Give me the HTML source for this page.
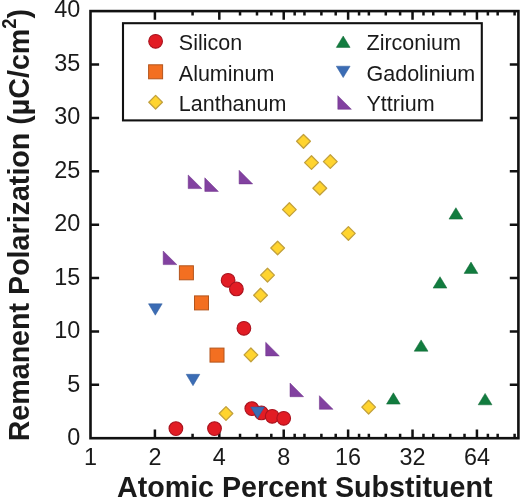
<!DOCTYPE html>
<html lang="en"><head><meta charset="utf-8"><title>Remanent Polarization vs Atomic Percent Substituent</title>
<style>html,body{margin:0;padding:0;background:#fff;}body{width:520px;height:498px;overflow:hidden;}svg{display:block;}text{font-family:"Liberation Sans", Arial, Helvetica, sans-serif;fill:#1a1a1a;}</style></head><body>
<svg width="520" height="498" viewBox="0 0 520 498">
<rect x="0" y="0" width="520" height="498" fill="#ffffff"/>
<g stroke="#111" stroke-width="2.50" stroke-linecap="butt" fill="none">
<path d="M154.91 438.20V429.60 M154.91 11.10V19.70"/>
<path d="M219.31 438.20V429.60 M219.31 11.10V19.70"/>
<path d="M283.72 438.20V429.60 M283.72 11.10V19.70"/>
<path d="M348.12 438.20V429.60 M348.12 11.10V19.70"/>
<path d="M412.53 438.20V429.60 M412.53 11.10V19.70"/>
<path d="M476.93 438.20V429.60 M476.93 11.10V19.70"/>
<path d="M192.58 438.20V433.70 M192.58 11.10V15.60"/>
<path d="M240.04 438.20V433.70 M240.04 11.10V15.60"/>
<path d="M256.99 438.20V433.70 M256.99 11.10V15.60"/>
<path d="M271.31 438.20V433.70 M271.31 11.10V15.60"/>
<path d="M294.66 438.20V433.70 M294.66 11.10V15.60"/>
<path d="M304.45 438.20V433.70 M304.45 11.10V15.60"/>
<path d="M321.39 438.20V433.70 M321.39 11.10V15.60"/>
<path d="M335.71 438.20V433.70 M335.71 11.10V15.60"/>
<path d="M359.07 438.20V433.70 M359.07 11.10V15.60"/>
<path d="M368.86 438.20V433.70 M368.86 11.10V15.60"/>
<path d="M385.80 438.20V433.70 M385.80 11.10V15.60"/>
<path d="M400.12 438.20V433.70 M400.12 11.10V15.60"/>
<path d="M423.47 438.20V433.70 M423.47 11.10V15.60"/>
<path d="M433.26 438.20V433.70 M433.26 11.10V15.60"/>
<path d="M450.20 438.20V433.70 M450.20 11.10V15.60"/>
<path d="M464.52 438.20V433.70 M464.52 11.10V15.60"/>
<path d="M487.88 438.20V433.70 M487.88 11.10V15.60"/>
<path d="M497.67 438.20V433.70 M497.67 11.10V15.60"/>
<path d="M514.61 438.20V433.70 M514.61 11.10V15.60"/>
<path d="M90.50 384.81H99.10 M518.40 384.81H509.80"/>
<path d="M90.50 331.42H99.10 M518.40 331.42H509.80"/>
<path d="M90.50 278.04H99.10 M518.40 278.04H509.80"/>
<path d="M90.50 224.65H99.10 M518.40 224.65H509.80"/>
<path d="M90.50 171.26H99.10 M518.40 171.26H509.80"/>
<path d="M90.50 117.88H99.10 M518.40 117.88H509.80"/>
<path d="M90.50 64.49H99.10 M518.40 64.49H509.80"/>
</g>
<circle cx="175.9" cy="428.6" r="6.85" fill="#e21c24" stroke="#a9121d" stroke-width="1.1"/>
<circle cx="214.5" cy="428.6" r="6.85" fill="#e21c24" stroke="#a9121d" stroke-width="1.1"/>
<circle cx="228.1" cy="280.3" r="6.85" fill="#e21c24" stroke="#a9121d" stroke-width="1.1"/>
<circle cx="236.4" cy="288.9" r="6.85" fill="#e21c24" stroke="#a9121d" stroke-width="1.1"/>
<circle cx="243.9" cy="328.3" r="6.85" fill="#e21c24" stroke="#a9121d" stroke-width="1.1"/>
<circle cx="251.8" cy="408.6" r="6.85" fill="#e21c24" stroke="#a9121d" stroke-width="1.1"/>
<circle cx="261.4" cy="412.9" r="6.85" fill="#e21c24" stroke="#a9121d" stroke-width="1.1"/>
<circle cx="272.2" cy="416.3" r="6.85" fill="#e21c24" stroke="#a9121d" stroke-width="1.1"/>
<circle cx="283.7" cy="418.3" r="6.85" fill="#e21c24" stroke="#a9121d" stroke-width="1.1"/>
<rect x="179.4" y="265.8" width="14.0" height="14.0" fill="#f36f21" stroke="#b3551d" stroke-width="1"/>
<rect x="194.5" y="295.9" width="14.0" height="14.0" fill="#f36f21" stroke="#b3551d" stroke-width="1"/>
<rect x="210.0" y="348.1" width="14.0" height="14.0" fill="#f36f21" stroke="#b3551d" stroke-width="1"/>
<path d="M303.5 134.5L310.4 141.3L303.5 148.2L296.6 141.3Z" fill="#ffd42f" stroke="#c2a03c" stroke-width="1.3" stroke-linejoin="round"/>
<path d="M311.5 155.8L318.4 162.6L311.5 169.4L304.6 162.6Z" fill="#ffd42f" stroke="#c2a03c" stroke-width="1.3" stroke-linejoin="round"/>
<path d="M330.3 154.8L337.2 161.6L330.3 168.4L323.4 161.6Z" fill="#ffd42f" stroke="#c2a03c" stroke-width="1.3" stroke-linejoin="round"/>
<path d="M319.8 181.3L326.7 188.2L319.8 195.0L312.9 188.2Z" fill="#ffd42f" stroke="#c2a03c" stroke-width="1.3" stroke-linejoin="round"/>
<path d="M289.4 202.8L296.2 209.6L289.4 216.4L282.5 209.6Z" fill="#ffd42f" stroke="#c2a03c" stroke-width="1.3" stroke-linejoin="round"/>
<path d="M348.4 226.6L355.2 233.4L348.4 240.2L341.5 233.4Z" fill="#ffd42f" stroke="#c2a03c" stroke-width="1.3" stroke-linejoin="round"/>
<path d="M277.6 241.2L284.5 248.0L277.6 254.8L270.8 248.0Z" fill="#ffd42f" stroke="#c2a03c" stroke-width="1.3" stroke-linejoin="round"/>
<path d="M267.5 268.2L274.4 275.1L267.5 282.0L260.6 275.1Z" fill="#ffd42f" stroke="#c2a03c" stroke-width="1.3" stroke-linejoin="round"/>
<path d="M260.5 288.3L267.4 295.2L260.5 302.1L253.7 295.2Z" fill="#ffd42f" stroke="#c2a03c" stroke-width="1.3" stroke-linejoin="round"/>
<path d="M250.9 348.0L257.8 354.9L250.9 361.8L244.1 354.9Z" fill="#ffd42f" stroke="#c2a03c" stroke-width="1.3" stroke-linejoin="round"/>
<path d="M226.0 406.6L232.8 413.5L226.0 420.4L219.2 413.5Z" fill="#ffd42f" stroke="#c2a03c" stroke-width="1.3" stroke-linejoin="round"/>
<path d="M368.6 400.2L375.5 407.1L368.6 414.0L361.8 407.1Z" fill="#ffd42f" stroke="#c2a03c" stroke-width="1.3" stroke-linejoin="round"/>
<path d="M455.9 207.7L462.8 219.1L449.0 219.1Z" fill="#127c3f" stroke="#0d6433" stroke-width="0.5"/>
<path d="M471.0 262.1L477.9 273.4L464.1 273.4Z" fill="#127c3f" stroke="#0d6433" stroke-width="0.5"/>
<path d="M440.0 276.7L446.9 288.1L433.1 288.1Z" fill="#127c3f" stroke="#0d6433" stroke-width="0.5"/>
<path d="M421.1 339.9L428.0 351.2L414.2 351.2Z" fill="#127c3f" stroke="#0d6433" stroke-width="0.5"/>
<path d="M393.4 392.8L400.2 404.1L386.5 404.1Z" fill="#127c3f" stroke="#0d6433" stroke-width="0.5"/>
<path d="M485.1 393.4L492.0 404.8L478.2 404.8Z" fill="#127c3f" stroke="#0d6433" stroke-width="0.5"/>
<path d="M148.5 303.8L162.2 303.8L155.3 315.2Z" fill="#3b6cb4" stroke="#2f5a9c" stroke-width="0.5"/>
<path d="M186.2 374.3L199.8 374.3L193.0 385.7Z" fill="#3b6cb4" stroke="#2f5a9c" stroke-width="0.5"/>
<path d="M250.7 407.0L264.4 407.0L257.5 418.4Z" fill="#3b6cb4" stroke="#2f5a9c" stroke-width="0.5"/>
<path d="M188.2 175.0L201.8 188.6L188.2 188.6Z" fill="#8241a0" stroke="#6c3089" stroke-width="0.5"/>
<path d="M204.8 177.8L218.4 191.4L204.8 191.4Z" fill="#8241a0" stroke="#6c3089" stroke-width="0.5"/>
<path d="M239.1 170.3L252.7 183.9L239.1 183.9Z" fill="#8241a0" stroke="#6c3089" stroke-width="0.5"/>
<path d="M163.2 251.0L176.8 264.6L163.2 264.6Z" fill="#8241a0" stroke="#6c3089" stroke-width="0.5"/>
<path d="M265.7 342.3L279.3 355.9L265.7 355.9Z" fill="#8241a0" stroke="#6c3089" stroke-width="0.5"/>
<path d="M290.0 383.1L303.6 396.7L290.0 396.7Z" fill="#8241a0" stroke="#6c3089" stroke-width="0.5"/>
<path d="M319.4 395.7L333.0 409.3L319.4 409.3Z" fill="#8241a0" stroke="#6c3089" stroke-width="0.5"/>
<rect x="90.50" y="11.10" width="427.90" height="427.10" fill="none" stroke="#111" stroke-width="2.60"/>
<rect x="123" y="23.2" width="358.8" height="97.2" fill="#fff" stroke="#111" stroke-width="2.1"/>
<circle cx="155.6" cy="41.3" r="6.85" fill="#e21c24" stroke="#a9121d" stroke-width="1.1"/>
<rect x="148.6" y="64.8" width="14.0" height="14.0" fill="#f36f21" stroke="#b3551d" stroke-width="1"/>
<path d="M155.6 95.4L162.4 102.2L155.6 109.0L148.8 102.2Z" fill="#ffd42f" stroke="#c2a03c" stroke-width="1.3" stroke-linejoin="round"/>
<path d="M343.2 36.0L350.1 47.4L336.3 47.4Z" fill="#127c3f" stroke="#0d6433" stroke-width="0.5"/>
<path d="M336.3 66.2L350.1 66.2L343.2 77.6Z" fill="#3b6cb4" stroke="#2f5a9c" stroke-width="0.5"/>
<path d="M337.8 95.7L351.4 109.3L337.8 109.3Z" fill="#8241a0" stroke="#6c3089" stroke-width="0.5"/>
<g font-size="21.5">
<text x="178.8" y="50.3">Silicon</text>
<text x="178.8" y="80.7">Aluminum</text>
<text x="178.8" y="111">Lanthanum</text>
<text x="366.5" y="50.3">Zirconium</text>
<text x="366.5" y="80.7">Gadolinium</text>
<text x="366.5" y="111">Yttrium</text>
</g>
<g font-size="23.4" text-anchor="end">
<text transform="translate(80.3 445.1) scale(1 1.035)">0</text>
<text transform="translate(80.3 391.6) scale(1 1.035)">5</text>
<text transform="translate(80.3 338.1) scale(1 1.035)">10</text>
<text transform="translate(80.3 284.6) scale(1 1.035)">15</text>
<text transform="translate(80.3 231.1) scale(1 1.035)">20</text>
<text transform="translate(80.3 177.6) scale(1 1.035)">25</text>
<text transform="translate(80.3 124.1) scale(1 1.035)">30</text>
<text transform="translate(80.3 70.6) scale(1 1.035)">35</text>
<text transform="translate(80.3 17.1) scale(1 1.035)">40</text>
</g>
<g font-size="23.4" text-anchor="middle">
<text transform="translate(90.5 465.2) scale(1 1.035)">1</text>
<text transform="translate(154.9 465.2) scale(1 1.035)">2</text>
<text transform="translate(219.3 465.2) scale(1 1.035)">4</text>
<text transform="translate(283.7 465.2) scale(1 1.035)">8</text>
<text transform="translate(348.1 465.2) scale(1 1.035)">16</text>
<text transform="translate(412.5 465.2) scale(1 1.035)">32</text>
<text transform="translate(476.9 465.2) scale(1 1.035)">64</text>
</g>
<text transform="translate(304.7 497.3) scale(1 1.05)" font-size="28.65" font-weight="bold" text-anchor="middle">Atomic Percent Substituent</text>
<text transform="translate(29 225.1) rotate(-90) scale(1 1.05)" font-size="28.65" font-weight="bold" text-anchor="middle">Remanent Polarization (µC/cm<tspan font-size="18.5" dy="-12.6">2</tspan><tspan dy="12.6">)</tspan></text>
</svg></body></html>
